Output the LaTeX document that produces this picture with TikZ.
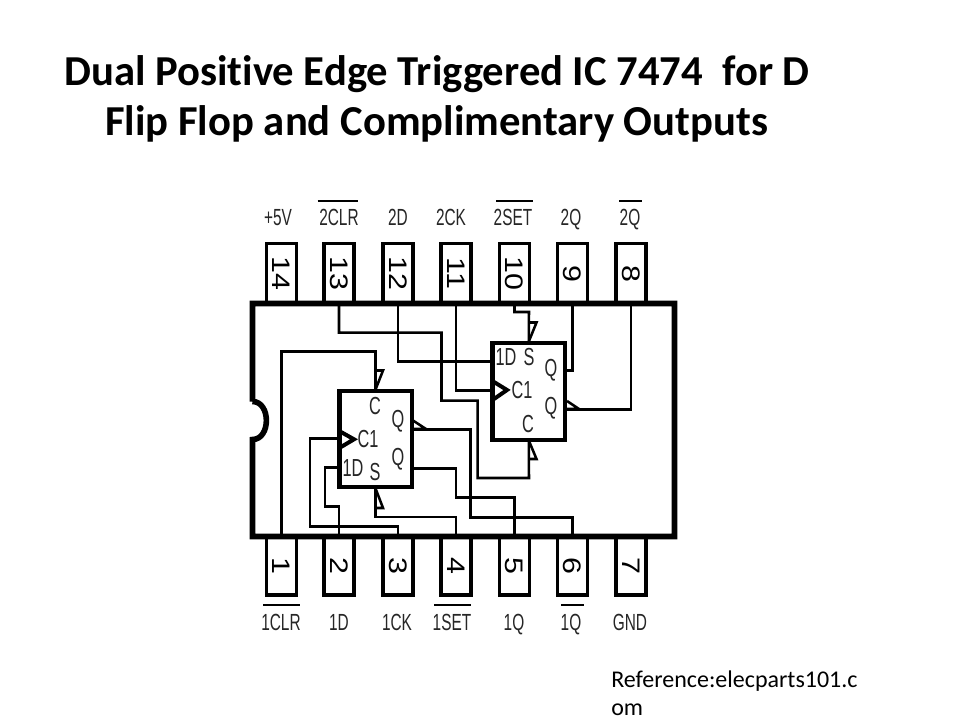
\documentclass[tikz,border=0pt]{standalone}
\usepackage{fontspec}
\setmainfont[Ligatures=NoCommon]{Carlito}
\newfontfamily\narrowf[FakeStretch=0.66]{Liberation Sans}
\newfontfamily\digitf[FakeStretch=1.2]{Liberation Sans}
\tikzset{
  pinbox/.style={draw=black,line width=2.4pt,fill=white,minimum width=22.5pt,inner sep=0pt,outer sep=0pt,font=\digitf\fontsize{19}{20}\selectfont},
  toppin/.style={pinbox,minimum height=45pt},
  botpin/.style={pinbox,minimum height=43.5pt},
  pinlabel/.style={inner sep=0pt,anchor=base,font=\narrowf\fontsize{17.5}{19}\selectfont,text=black!85},
  ovl/.style={line width=1.8pt},
  body/.style={line width=4.2pt,line join=miter},
  ffbox/.style={draw=black,line width=3.2pt,fill=white,inner sep=0pt,outer sep=0pt,minimum width=54.4pt,minimum height=72pt},
  ffbox2/.style={ffbox,minimum height=72.8pt},
  wire/.style={line width=1.9pt,line join=miter},
  bubble/.style={line width=1.9pt,line join=miter},
  clocktri/.style={line width=3pt,line join=miter},
  fflabel/.style={inner sep=0pt,anchor=base,font=\narrowf\fontsize{18.5}{20}\selectfont,text=black!85},
  titletext/.style={inner sep=0pt,anchor=base west,font=\bfseries\fontsize{32}{36}\selectfont},
  reftext/.style={inner sep=0pt,anchor=base west,font=\fontsize{18}{20}\selectfont},
}
\newcommand{\dg}[1]{\rotatebox{-90}{#1}}
\begin{document}
\begin{tikzpicture}[x=0.75pt,y=-0.75pt]
\useasboundingbox (0,0) rectangle (960,720);
\fill[white] (0,0) rectangle (960,720);
% title
\node[titletext] (t1) at (64,86) {Dual Positive Edge Triggered IC 7474\ \ for D};
\node[titletext] (t2) at (105,136) {Flip Flop and Complimentary Outputs};
\node[reftext] (r1) at (611,687) {Reference:elecparts101.c};
\node[reftext] (r2) at (611,715) {om};
% pins
\foreach \n/\lab/\x in {p14/14/281.5,p13/13/339,p12/12/398,p11/11/456,p10/10/514.5,p9/9/572.5,p8/8/631}
  \node[toppin] (\n) at (\x,273.5) {\dg{\lab}};
\foreach \n/\lab/\x in {p1/1/281.5,p2/2/339,p3/3/398,p4/4/456,p5/5/514.5,p6/6/572.5,p7/7/631}
  \node[botpin] (\n) at (\x,566) {\dg{\lab}};
% package body
\draw[body] (252.5,401.5) -- (252.5,303.5) -- (674.5,303.5) -- (674.5,536.5) -- (252.5,536.5) -- (252.5,439.5)
  .. controls (271,439.5) and (271,401.5) .. (252.5,401.5);
% flip-flops
\node[ffbox] (fa) at (375.75,439.25) {};
\node[ffbox2] (fb) at (528.75,391.5) {};
% ports
\coordinate (faD) at (340,467.7);
\coordinate (faC) at (340,438.3);
\coordinate (faQb) at (411.5,429.5);
\coordinate (faQ) at (411.5,468.3);
\coordinate (fbD) at (492.5,361.7);
\coordinate (fbC) at (492.5,390.7);
\coordinate (fbQ) at (565,370.7);
\coordinate (fbQb) at (565,409.3);
% wires
\draw[wire] (p13.south) |- (441.5,332.7) |- (477.7,400.7) |- (529,478) -- (fb.south);
\draw[wire] (p12.south) |- (fbD);
\draw[wire] (p11.south) |- (fbC);
\draw[wire] (p10.south) |- (529,312) -- (fb.north);
\draw[wire] (p9.south) |- (fbQ);
\draw[wire] (p8.south) |- (fbQb);
\draw[wire] (p1.north) |- (375.75,351.7) -- (fa.north);
\draw[wire] (p2.north) |- (325,506.7) |- (faD);
\draw[wire] (p3.north) |- (310,526.7) |- (faC);
\draw[wire] (p4.north) |- (375.75,517) -- (fa.south);
\draw[wire] (faQb) -| (470.7,517.3) -| (p6.north);
\draw[wire] (faQ) -| (456,497.7) -| (p5.north);
% inversion bubbles
\draw[bubble] (375.75,389) -- (383,370.5) -- (375.75,370.5);
\draw[bubble] (375.75,489) -- (383,508) -- (375.75,508);
\draw[bubble] (529,341) -- (536.5,322.5) -- (529,322.5);
\draw[bubble] (529,441) -- (536.5,459) -- (529,459);
\draw[bubble] (413,420.5) -- (426,429) -- (413,429);
\draw[bubble] (567,401) -- (579,409) -- (567,409);
% clock triangles
\draw[clocktri] (341,432) -- (354,439.3) -- (341,447);
\draw[clocktri] (494,382) -- (507,390) -- (494,399);
% flip-flop labels
\node[fflabel] (la1) at (375,414) {C};
\node[fflabel] (la2) at (398,427) {Q};
\node[fflabel] (la3) at (368,447) {C1};
\node[fflabel] (la4) at (398,465) {Q};
\node[fflabel] (la5) at (353,476) {1D};
\node[fflabel] (la6) at (375,480) {S};
\node[fflabel] (lb1) at (506,365) {1D};
\node[fflabel] (lb2) at (529,365) {S};
\node[fflabel] (lb3) at (551,376) {Q};
\node[fflabel] (lb4) at (522,398) {C1};
\node[fflabel] (lb5) at (551,414) {Q};
\node[fflabel] (lb6) at (528,432) {C};
% pin labels
\foreach \n/\t/\x in {a14/+5V/278,a13/2CLR/339,a12/2D/398,a11/2CK/451,a10/2SET/513,a9/2Q/571,a8/2Q/630}
  \node[pinlabel] (\n) at (\x,225.5) {\t};
\foreach \n/\t/\x in {b1/1CLR/281,b2/1D/339,b3/1CK/397,b4/1SET/452,b5/1Q/514,b6/1Q/571,b7/GND/630}
  \node[pinlabel] (\n) at (\x,630) {\t};
% overbars
\draw[ovl] (317.5,201) -- (358,201);
\draw[ovl] (496,201) -- (533,201);
\draw[ovl] (619,201) -- (642,201);
\draw[ovl] (263,605) -- (300,605);
\draw[ovl] (434,605) -- (471,605);
\draw[ovl] (561,605) -- (584,605);
\end{tikzpicture}
\end{document}
